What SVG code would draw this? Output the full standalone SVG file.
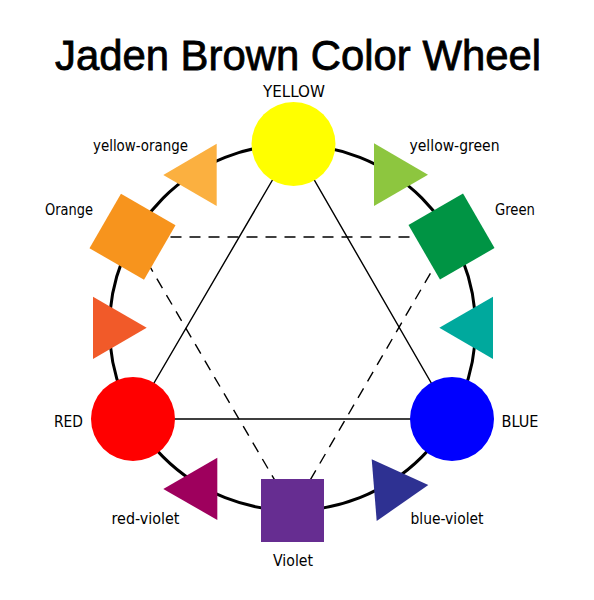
<svg xmlns="http://www.w3.org/2000/svg" width="594" height="600" viewBox="0 0 594 600">
<style>
text { font-family: "Comic Sans MS", "DejaVu Sans", sans-serif; fill: #000; }
.lbl { font-size: 15px; }
.title { font-family: "Comic Sans MS", "Liberation Sans", sans-serif; font-size: 42px; stroke: #000; stroke-width: 0.8; }
.wheel { fill: none; stroke: #000; stroke-width: 3; }
.solid { stroke: #000; stroke-width: 1.4; fill: none; }
.dash { stroke: #000; stroke-width: 1.4; fill: none; stroke-dasharray: 11 8; }
</style>
<rect width="594" height="600" fill="#fff"/>
<text class="title" x="55" y="70" textLength="486" lengthAdjust="spacingAndGlyphs">Jaden Brown Color Wheel</text>
<circle class="wheel" cx="292.5" cy="327.5" r="183"/>
<g id="connectors">
  <polygon class="solid" points="293.5,144 133,419 452,419"/>
  <polygon class="dash" points="132.5,237 451.5,237 292.5,510.5"/>
</g>
<g id="yellow">
  <circle cx="293.5" cy="144" r="42" fill="#FFFF00"/>
  <text class="lbl" x="263" y="97" textLength="62" lengthAdjust="spacingAndGlyphs">YELLOW</text>
</g>
<g id="yellow-orange">
  <polygon points="216.7,143.7 216.7,206 163.3,174.9" fill="#FBB040"/>
  <text class="lbl" x="93" y="151" textLength="95" lengthAdjust="spacingAndGlyphs">yellow-orange</text>
</g>
<g id="yellow-green">
  <polygon points="374,143.3 374,206 428,174.7" fill="#8DC63F"/>
  <text class="lbl" x="409.5" y="151" textLength="90" lengthAdjust="spacingAndGlyphs">yellow-green</text>
</g>
<g id="orange">
  <rect x="-31.5" y="-31.5" width="63" height="63" fill="#F7941D" transform="translate(132.5,236.7) rotate(30)"/>
  <text class="lbl" x="45" y="215" textLength="48" lengthAdjust="spacingAndGlyphs">Orange</text>
</g>
<g id="green">
  <rect x="-31.5" y="-31.5" width="63" height="63" fill="#009444" transform="translate(451.5,236.5) rotate(-30)"/>
  <text class="lbl" x="495" y="215" textLength="40" lengthAdjust="spacingAndGlyphs">Green</text>
</g>
<g id="red-orange">
  <polygon points="93,296.7 93,359 146.7,327.8" fill="#F15A29"/>
</g>
<g id="blue-green">
  <polygon points="493,296.7 493,359 439.3,327.8" fill="#00A99D"/>
</g>
<g id="red">
  <circle cx="133" cy="419" r="42" fill="#FF0000"/>
  <text class="lbl" x="54" y="427" textLength="29" lengthAdjust="spacingAndGlyphs">RED</text>
</g>
<g id="blue">
  <circle cx="452" cy="419" r="42" fill="#0000FF"/>
  <text class="lbl" x="501.5" y="427" textLength="37" lengthAdjust="spacingAndGlyphs">BLUE</text>
</g>
<g id="red-violet">
  <polygon points="217.3,457.7 217.3,520 163.3,488.9" fill="#9E005D"/>
  <text class="lbl" x="111.5" y="524" textLength="68" lengthAdjust="spacingAndGlyphs">red-violet</text>
</g>
<g id="blue-violet">
  <polygon points="371.7,459.3 376.7,521 428.3,485" fill="#2E3192"/>
  <text class="lbl" x="410.5" y="524" textLength="73" lengthAdjust="spacingAndGlyphs">blue-violet</text>
</g>
<g id="violet">
  <rect x="261" y="479" width="63" height="63" fill="#662D91"/>
  <text class="lbl" x="273" y="566" textLength="40" lengthAdjust="spacingAndGlyphs">Violet</text>
</g>
</svg>
